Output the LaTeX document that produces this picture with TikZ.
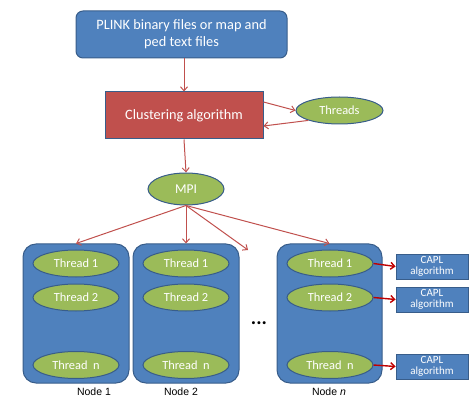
\documentclass[tikz,border=0pt]{standalone}
\usepackage{fontspec}
\setmainfont{Carlito}
\newfontfamily\arialfont{Liberation Sans}
\usetikzlibrary{shapes.geometric,arrows.meta}
\definecolor{bfill}{HTML}{4F81BD}
\definecolor{bline}{HTML}{385D8A}
\definecolor{gfill}{HTML}{9BBB59}
\definecolor{rfill}{HTML}{C0504D}
\definecolor{arr}{HTML}{C0504D}
\definecolor{darr}{HTML}{C00000}
\tikzset{
  topbox/.style={draw=bline, line width=1pt, fill=bfill, rounded corners=7pt, text=white, font=\fontsize{14.3}{17}\selectfont, align=center, inner sep=0pt},
  clbox/.style={draw=bline, line width=1pt, fill=rfill, text=white, font=\fontsize{14.3}{17}\selectfont, inner sep=0pt},
  oval/.style={ellipse, draw=bline, line width=1pt, fill=gfill, text=white, inner sep=0pt, font=\fontsize{12.4}{14}\selectfont},
  nodebox/.style={draw=bline, line width=1pt, fill=bfill, rounded corners=13pt, inner sep=0pt},
  caplbox/.style={draw=bline, line width=0.8pt, fill=bfill, text=white, font=\fontsize{11}{11.5}\selectfont, align=center, inner sep=0pt},
  lbl/.style={font=\arialfont\fontsize{10.5}{12}\selectfont, text=black},
  conn/.style={draw=arr, line width=1pt, -{Straight Barb[length=4pt,width=7pt]}},
  dconn/.style={draw=darr, line width=1.4pt, -{Straight Barb[length=4pt,width=7pt]}},
}
\begin{document}
\begin{tikzpicture}[x=1pt,y=-1pt]
\useasboundingbox (0,0) rectangle (474,406);
\node[topbox, minimum width=211pt, minimum height=47pt] (plink) at (181.5,34.5) {PLINK binary files or map and\\ped text files};
\node[clbox, minimum width=158pt, minimum height=47pt] (clust) at (184,115.5) {Clustering algorithm};
\node[oval, minimum width=87pt, minimum height=27pt] (thr) at (339.5,110.5) {Threads};
\node[oval, minimum width=76pt, minimum height=32pt, font=\fontsize{13.5}{15}\selectfont] (mpi) at (186,189) {MPI};

\node[nodebox, minimum width=106pt, minimum height=139pt] (n1) at (76,313.5) {};
\node[nodebox, minimum width=106pt, minimum height=139pt] (n2) at (186,313.5) {};
\node[nodebox, minimum width=105pt, minimum height=139pt] (nn) at (329.5,313.5) {};

\foreach \nm/\cx in {a/76, b/186, c/330}{
  \node[oval, minimum width=86pt, minimum height=27pt] (\nm1) at (\cx,263.5) {Thread 1};
  \node[oval, minimum width=86pt, minimum height=27pt] (\nm2) at (\cx,297.5) {Thread 2};
  \node[oval, minimum width=86pt, minimum height=27pt] (\nm3) at (\cx,365) {Thread~~n};
}

\node[font=\fontsize{20}{20}\selectfont\bfseries, inner sep=0pt] (dots) at (259,323) {...};

\node[caplbox, minimum width=72pt, minimum height=25pt] (cap1) at (432,266.5) {CAPL\\algorithm};
\node[caplbox, minimum width=72pt, minimum height=25pt] (cap2) at (432,299.5) {CAPL\\algorithm};
\node[caplbox, minimum width=72pt, minimum height=25pt] (cap3) at (432,366.5) {CAPL\\algorithm};

\node[lbl] (l1) at (94,392) {Node 1};
\node[lbl] (l2) at (181,392) {Node 2};
\node[lbl] (l3) at (329,392) {Node \textit{n}};

\coordinate (free) at (248,250);

\draw[conn] (clust.north |- plink.south) -- (clust.north);
\draw[conn] (clust.north east |- 0,102) -- (thr.west);
\draw[conn] (thr.south west) -- (clust.east |- 0,126);
\draw[conn] (clust.south) -- (mpi.north);
\draw[conn] (mpi.south) -- (n1.north);
\draw[conn] (mpi.south) -- (n2.north);
\draw[conn] (mpi.south) -- (free);
\draw[conn] (mpi.south) -- (nn.north);
\draw[dconn] (c1.east) -- (cap1.west);
\draw[dconn] (c2.east) -- (cap2.west);
\draw[dconn] (c3.east) -- (cap3.west);
\end{tikzpicture}
\end{document}
